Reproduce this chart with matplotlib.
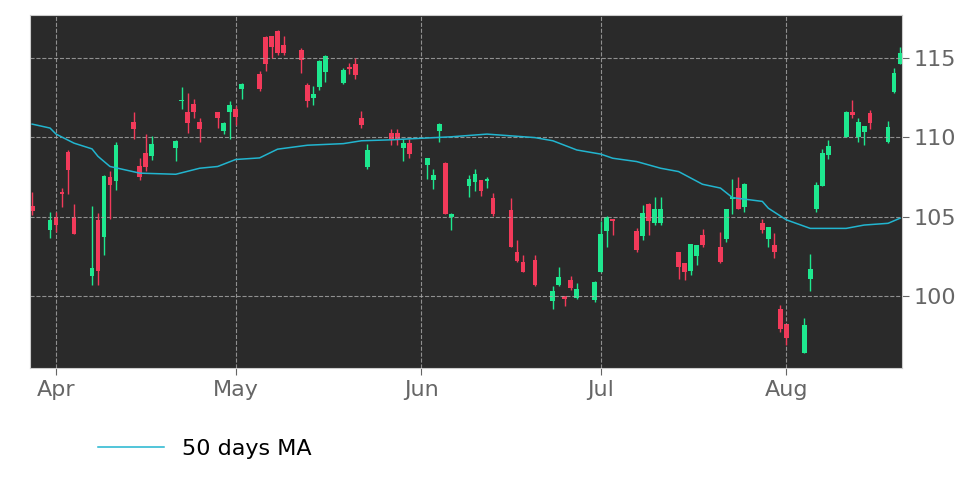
import matplotlib
matplotlib.use("Agg")
import matplotlib.pyplot as plt
import matplotlib.dates as mdates
import numpy as np
import pandas as pd

# OHLC data, 2025
dates = ["03-28", "03-31", "04-01", "04-02", "04-03", "04-04", "04-07", "04-08", "04-09", "04-10",
         "04-11", "04-14", "04-15", "04-16", "04-17", "04-21", "04-22", "04-23", "04-24", "04-25",
         "04-28", "04-29", "04-30", "05-01", "05-02", "05-05", "05-06", "05-07", "05-08", "05-09",
         "05-12", "05-13", "05-14", "05-15", "05-16", "05-19", "05-20", "05-21", "05-22", "05-23",
         "05-27", "05-28", "05-29", "05-30", "06-02", "06-03", "06-04", "06-05", "06-06", "06-09",
         "06-10", "06-11", "06-12", "06-13", "06-16", "06-17", "06-18", "06-20", "06-23", "06-24",
         "06-25", "06-26", "06-27", "06-30", "07-01", "07-02", "07-03", "07-07", "07-08", "07-09",
         "07-10", "07-11", "07-14", "07-15", "07-16", "07-17", "07-18", "07-21", "07-22", "07-23",
         "07-24", "07-25", "07-28", "07-29", "07-30", "07-31", "08-01", "08-04", "08-05", "08-06",
         "08-07", "08-08", "08-11", "08-12", "08-13", "08-14", "08-15", "08-18", "08-19", "08-20"]
opens = [105.67, 104.16, 105.0, 106.58, 109.1, 105.0, 101.27, 104.8, 103.7, 107.5,
         107.27, 110.96, 108.2, 109.0, 108.83, 109.3, 112.3, 111.6, 112.1, 110.96,
         111.6, 110.4, 111.6, 111.8, 113.06, 114.0, 116.3, 116.4, 116.7, 115.8,
         115.5, 113.3, 112.5, 113.15, 114.1, 113.4, 114.4, 114.64, 111.2, 108.1,
         110.26, 110.26, 109.3, 109.67, 108.26, 107.3, 110.4, 108.4, 105.0, 106.9,
         107.2, 107.3, 107.27, 106.16, 105.4, 102.75, 102.16, 102.26, 99.67, 100.7,
         100.0, 101.0, 99.9, 99.74, 101.5, 104.1, 104.85, 104.1, 103.8, 105.8,
         104.6, 104.6, 102.75, 102.05, 101.57, 102.5, 103.84, 103.06, 103.57, 106.1,
         106.8, 105.63, 104.58, 103.6, 103.2, 99.17, 98.26, 96.43, 101.06, 105.5,
         106.96, 108.9, 110.0, 111.6, 110.0, 110.33, 111.5, 109.7, 112.83, 114.6]
highs = [106.58, 105.27, 105.3, 106.8, 109.2, 105.8, 105.7, 105.2, 107.6, 107.85,
         109.7, 111.6, 108.7, 110.2, 110.1, 109.8, 113.15, 112.8, 112.4, 111.2,
         111.6, 110.95, 112.26, 112.0, 113.4, 114.15, 116.4, 116.4, 116.75, 116.35,
         115.6, 113.4, 113.2, 114.9, 115.17, 114.37, 114.7, 115.0, 111.63, 109.6,
         110.5, 110.5, 109.9, 109.9, 108.7, 108.0, 110.9, 108.47, 105.2, 107.6,
         108.0, 107.3, 107.5, 106.5, 106.16, 103.5, 102.6, 102.6, 100.64, 101.8,
         100.0, 101.25, 100.8, 100.94, 104.7, 105.04, 104.85, 104.26, 105.74, 105.84,
         106.26, 106.26, 102.75, 102.05, 103.3, 103.2, 104.2, 104.05, 105.5, 107.4,
         107.5, 107.1, 104.85, 104.37, 104.0, 99.46, 98.26, 98.64, 102.64, 107.2,
         109.27, 109.8, 111.63, 112.37, 111.2, 110.73, 111.73, 111.04, 114.37, 115.7]
lows = [105.1, 103.67, 104.05, 105.6, 106.4, 103.9, 100.7, 100.7, 102.6, 104.85,
        106.7, 109.9, 107.3, 107.85, 108.6, 108.5, 111.8, 110.26, 111.2, 109.7,
        110.6, 110.2, 109.9, 110.8, 112.4, 112.9, 114.15, 115.0, 115.2, 115.2,
        114.05, 111.9, 112.05, 113.0, 113.5, 113.36, 114.0, 113.7, 110.6, 108.0,
        109.5, 109.5, 108.5, 108.7, 107.4, 106.75, 109.7, 105.17, 104.16, 106.26,
        106.6, 106.3, 106.8, 105.04, 103.06, 102.16, 101.5, 100.64, 99.2, 100.6,
        99.36, 100.4, 99.8, 99.6, 101.5, 103.06, 103.84, 102.8, 103.5, 103.84,
        104.5, 104.5, 101.1, 101.0, 101.3, 101.95, 103.06, 102.05, 103.4, 105.15,
        105.5, 105.27, 103.95, 103.06, 102.4, 97.74, 96.94, 96.43, 100.3, 105.3,
        106.96, 108.64, 110.0, 111.2, 109.7, 109.5, 110.5, 109.63, 112.8, 114.6]
closes = [105.36, 104.79, 104.47, 106.45, 107.95, 103.9, 101.74, 101.6, 107.57, 107.0,
          109.5, 110.5, 107.5, 108.15, 109.6, 109.74, 112.35, 110.9, 111.6, 110.5,
          111.2, 110.9, 112.05, 111.3, 113.35, 113.06, 114.6, 115.7, 115.3, 115.3,
          114.85, 112.26, 112.75, 114.83, 115.1, 114.26, 114.3, 113.9, 110.8, 109.2,
          109.9, 109.9, 109.67, 108.96, 108.7, 107.6, 110.85, 105.17, 105.17, 107.36,
          107.7, 106.6, 107.35, 105.17, 103.06, 102.2, 101.5, 100.7, 100.3, 101.17,
          99.78, 100.5, 100.43, 100.9, 103.9, 105.0, 104.7, 102.9, 105.2, 104.7,
          105.5, 105.5, 101.84, 101.5, 103.25, 103.2, 103.2, 102.16, 105.5, 106.26,
          105.5, 107.04, 104.16, 104.37, 102.75, 97.9, 97.36, 98.16, 101.7, 107.0,
          109.04, 109.46, 111.57, 111.42, 110.96, 110.73, 110.9, 110.64, 114.05, 115.3]

# 50 days moving average
ma_dates = ["03-28", "03-31", "04-01", "04-04", "04-07", "04-08", "04-10", "04-15", "04-21", "04-25",
            "04-28", "05-01", "05-05", "05-08", "05-13", "05-19", "05-22", "05-27", "05-30", "06-06",
            "06-12", "06-20", "06-23", "06-27", "07-01", "07-03", "07-07", "07-11", "07-14", "07-18",
            "07-21", "07-23", "07-28", "07-29", "08-01", "08-05", "08-11", "08-14", "08-18", "08-20"]
ma_values = [110.83, 110.58, 110.2, 109.63, 109.27, 108.8, 108.16, 107.74, 107.67, 108.05,
             108.16, 108.6, 108.7, 109.25, 109.5, 109.6, 109.78, 109.84, 109.9, 110.03,
             110.2, 109.98, 109.78, 109.2, 108.94, 108.68, 108.47, 108.05, 107.84, 107.04,
             106.8, 106.2, 105.96, 105.53, 104.8, 104.26, 104.26, 104.47, 104.58, 104.9]

GREEN = "#1ee88f"
RED = "#f23a5a"
MA_COLOR = "#22b5cf"

x = mdates.date2num(pd.to_datetime(["2025-" + d for d in dates]))
ma_x = mdates.date2num(pd.to_datetime(["2025-" + d for d in ma_dates]))
o, h, l, c = map(np.array, (opens, highs, lows, closes))
colors = np.where(c >= o, GREEN, RED)

fig = plt.figure(figsize=(9.72, 4.86), dpi=100)
ax = fig.add_axes([0.031, 0.243, 0.897, 0.726])
ax.set_facecolor("#2a2a2a")

ax.vlines(x, l, h, colors=colors, linewidth=1)
body_h = np.maximum(np.abs(c - o), 0.08)
ax.bar(x, body_h, bottom=np.minimum(o, c), width=0.8, color=colors, linewidth=0)
ma_line, = ax.plot(ma_x, ma_values, color=MA_COLOR, linewidth=1.1, label="50 days MA")

ax.set_xlim(mdates.date2num(pd.Timestamp("2025-03-27 16:00")), mdates.date2num(pd.Timestamp("2025-08-20 08:00")))
ax.set_ylim(95.47, 117.7)
ax.set_yticks([100, 105, 110, 115])
ax.yaxis.tick_right()
ax.xaxis.set_major_locator(mdates.MonthLocator())
ax.xaxis.set_major_formatter(mdates.DateFormatter("%b"))
ax.tick_params(labelsize=16, labelcolor="#666666", color="#666666", length=5)
ax.grid(True, color="#aaaaaa", linestyle="--", linewidth=0.8, alpha=0.8)
for s in ax.spines.values():
    s.set_color("#cccccc")

fig.legend(handles=[ma_line], loc="lower left", bbox_to_anchor=(0.08, 0.015),
           frameon=False, fontsize=16, handlelength=3)

fig.savefig("out.png", dpi=100)
